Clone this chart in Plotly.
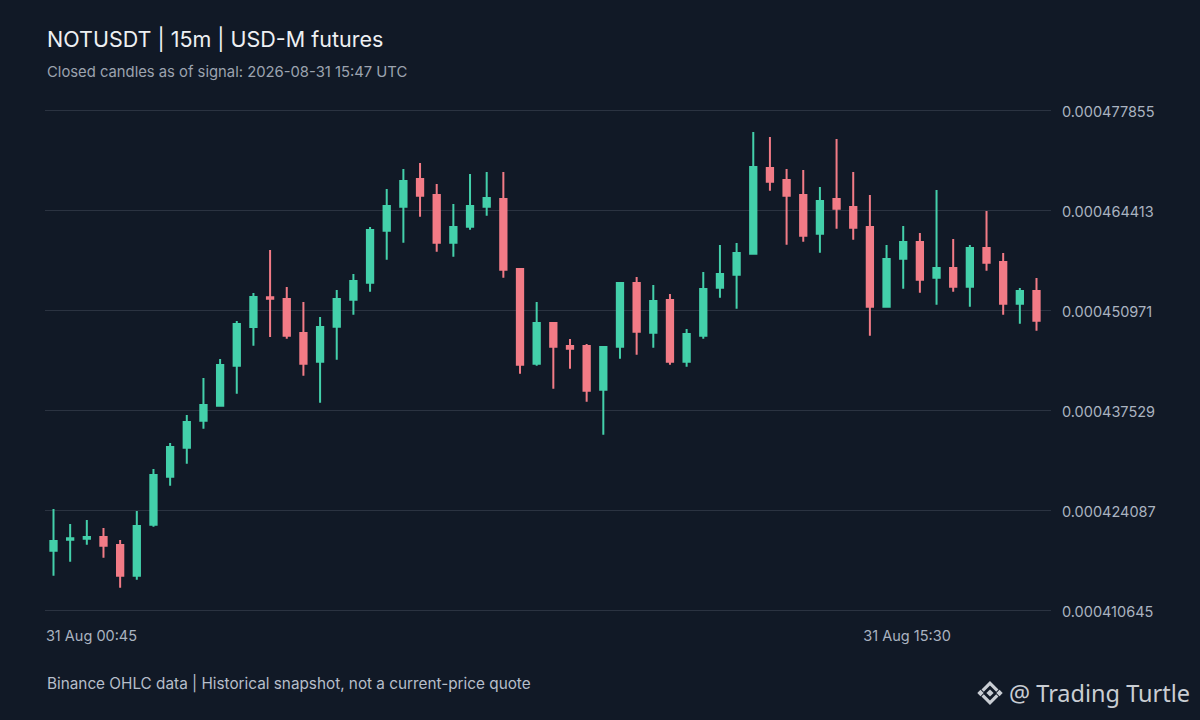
import plotly.graph_objects as go

# NOTUSDT 15m candles, prices in 1e-6 USDT
times = ["31 Aug 00:45", "31 Aug 15:30"]

open_ = [418.666, 420.144, 420.279, 420.503, 419.427, 415.305, 422.160, 428.613, 432.511, 436.140,
         438.156, 443.533, 448.731, 452.719, 452.495, 447.924, 444.071, 448.776, 452.405, 454.690,
         461.680, 464.906, 468.625, 466.475, 460.067, 462.218, 464.906, 465.937, 456.527, 443.802,
         449.269, 446.177, 446.177, 440.307, 446.087, 454.645, 447.969, 452.360, 444.071, 447.566,
         454.018, 455.766, 458.588, 470.104, 468.491, 466.475, 461.277, 465.937, 464.861, 462.173,
         451.464, 457.916, 460.157, 455.362, 456.662, 454.153, 459.350, 457.468, 451.867, 453.570]
high = [424.266, 422.250, 422.788, 421.712, 420.099, 423.997, 429.643, 433.138, 436.902, 441.875,
        444.429, 449.537, 453.301, 459.081, 454.108, 452.091, 450.075, 453.705, 455.855, 462.173,
        467.281, 469.969, 470.776, 467.953, 465.265, 469.297, 469.566, 469.566, 456.662, 452.091,
        449.403, 447.118, 446.446, 446.177, 454.645, 455.452, 454.377, 453.167, 448.462, 456.124,
        459.753, 460.022, 474.943, 474.271, 469.969, 469.835, 467.550, 474.002, 469.566, 466.475,
        459.753, 462.307, 461.367, 467.147, 460.560, 459.753, 464.324, 458.678, 453.973, 455.318]
low = [415.305, 417.187, 419.472, 417.725, 413.692, 414.767, 421.892, 427.403, 430.360, 435.065,
       438.022, 439.770, 446.222, 447.387, 447.163, 442.189, 438.560, 444.340, 450.389, 453.480,
       457.782, 460.067, 463.562, 458.857, 458.185, 461.815, 463.696, 455.362, 442.458, 443.533,
       440.442, 443.130, 438.694, 434.258, 444.474, 445.012, 445.953, 443.668, 443.399, 447.163,
       452.674, 451.195, 458.588, 467.057, 459.798, 460.202, 458.723, 461.949, 460.470, 447.566,
       451.330, 453.884, 453.346, 451.733, 453.480, 451.464, 456.303, 450.389, 449.178, 448.237]
close = [419.965, 420.323, 420.503, 419.338, 415.305, 421.981, 428.837, 432.600, 435.961, 438.246,
         443.623, 449.134, 452.764, 452.540, 447.566, 443.802, 448.731, 452.495, 454.914, 461.770,
         464.996, 468.356, 466.385, 460.067, 462.173, 464.996, 466.071, 456.438, 443.668, 449.269,
         446.087, 445.818, 440.173, 446.043, 454.645, 448.104, 452.226, 444.071, 447.790, 453.839,
         455.855, 458.678, 470.238, 468.267, 466.385, 461.008, 465.668, 464.637, 462.083, 451.464,
         457.872, 460.157, 455.094, 456.662, 454.153, 459.350, 457.379, 451.867, 453.570, 449.582]

y_ticks = [0.000410645, 0.000424087, 0.000437529, 0.000450971, 0.000464413, 0.000477855]

BG = "#111926"
GREEN = "#43d0aa"
RED = "#f27b86"

sc = 1e-6
x = list(range(len(open_)))

fig = go.Figure()
fig.add_trace(go.Candlestick(
    x=x,
    open=[v * sc for v in open_],
    high=[v * sc for v in high],
    low=[v * sc for v in low],
    close=[v * sc for v in close],
    increasing=dict(line=dict(color=GREEN, width=2), fillcolor=GREEN),
    decreasing=dict(line=dict(color=RED, width=2), fillcolor=RED),
    whiskerwidth=0,
    showlegend=False,
))

# plot area in pixels: x 45..1051, y 105..615 (gridlines at 110.3 and 610.3)
L, R, T, B = 45, 1051, 105, 615
G_TOP, G_BOT = 110.3, 610.3
per_px = (y_ticks[-1] - y_ticks[0]) / (G_BOT - G_TOP)
y_range = [y_ticks[0] - (B - G_BOT) * per_px, y_ticks[-1] + (G_TOP - T) * per_px]


def px(xp):
    return (xp - L) / (R - L)


def py(yp):
    return (B - yp) / (B - T)


# binance-ish logo drawn next to the watermark
cx, cy = 990, 693


def poly(pts):
    return "M " + " L ".join(f"{px(a):.5f},{py(b):.5f}" for a, b in pts) + " Z"


def diamond(x0, y0, r):
    return poly([(x0 - r, y0), (x0, y0 - r), (x0 + r, y0), (x0, y0 + r)])


logo = [
    diamond(cx - 9.5, cy, 3.2),
    diamond(cx + 9.5, cy, 3.2),
    diamond(cx, cy, 3.6),
    poly([(cx - 8.5, cy - 3.5), (cx, cy - 12), (cx + 8.5, cy - 3.5), (cx + 6.2, cy - 1.2),
          (cx, cy - 7.4), (cx - 6.2, cy - 1.2)]),
    poly([(cx - 8.5, cy + 3.5), (cx, cy + 12), (cx + 8.5, cy + 3.5), (cx + 6.2, cy + 1.2),
          (cx, cy + 7.4), (cx - 6.2, cy + 1.2)]),
]
shapes = [dict(type="path", xref="paper", yref="paper", path=p,
               fillcolor="#c9cdd3", line=dict(width=0)) for p in logo]

annos = [
    dict(text="NOTUSDT | 15m | USD-M futures", x=px(45), y=py(39),
         font=dict(size=21.5, color="#eef0f3")),
    dict(text="Closed candles as of signal: 2026-08-31 15:47 UTC", x=px(45), y=py(72),
         font=dict(size=14.8, color="#9ca3af")),
    dict(text="Binance OHLC data | Historical snapshot, not a current-price quote", x=px(45), y=py(683),
         font=dict(size=15.3, color="#b6beca")),
    dict(text="@ Trading Turtle", x=px(1007), y=py(693),
         font=dict(size=23.5, color="#c9cdd3", family="Noto Sans")),
]
for a in annos:
    a.update(xref="paper", yref="paper", xanchor="left", yanchor="middle", showarrow=False)

fig.update_layout(
    width=1200, height=720,
    paper_bgcolor=BG, plot_bgcolor=BG,
    margin=dict(l=L, r=1200 - R, t=T, b=720 - B),
    font=dict(family="Inter", color="#aab3c0", size=15),
    shapes=shapes,
    annotations=annos,
    boxgap=0.46,
    hovermode=False,
)
fig.update_xaxes(
    range=[-0.51, 59.87],
    tickvals=[2.28, 51.23], ticktext=times,
    showgrid=False, zeroline=False, showline=False,
    rangeslider=dict(visible=False),
    tickfont=dict(size=14.5, color="#aab3c0"),
    ticks="", ticklabelstandoff=10,
)
fig.update_yaxes(
    side="right",
    range=y_range,
    tickvals=y_ticks, tickformat=".9f",
    gridcolor="#2b3341", gridwidth=1,
    zeroline=False, showline=False,
    tickfont=dict(size=14.5, color="#aab3c0"),
    ticks="", ticklabelstandoff=10, ticklabelshift=2,
)

# drop the default page margin so the figure sits at the window corner
fig.write_html("out.html", config={"displayModeBar": False},
               post_script="document.body.style.margin='0';")
